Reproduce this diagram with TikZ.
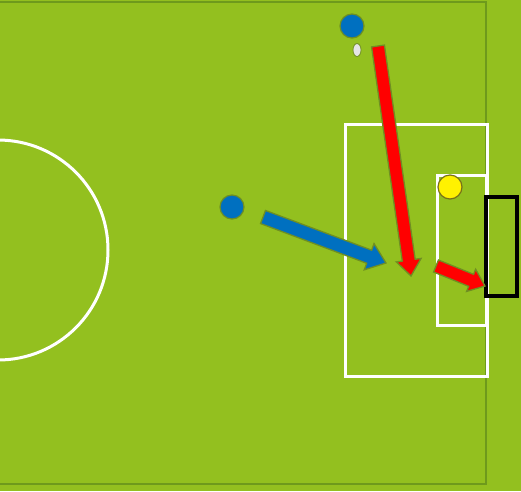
\documentclass[tikz,border=0pt]{standalone}
\usetikzlibrary{calc}

\definecolor{pitch}{HTML}{93C01F}
\definecolor{pitchline}{HTML}{6E9A1C}
\definecolor{kitblue}{HTML}{0070C0}
\definecolor{kitred}{HTML}{FF0000}
\definecolor{edge}{HTML}{6F8F22}

% block arrow: start, end, colour, half shaft, half head, head length
\newcommand{\movearrow}[6]{%
  \coordinate (ah) at ($(#2)!#6!(#1)$);
  \filldraw[#3, draw=edge, line width=1.3pt, line join=miter]
    ($(#1)!#4!90:(#2)$) -- ($(ah)!#4!-90:(#1)$) -- ($(ah)!#5!-90:(#1)$)
    -- (#2) -- ($(ah)!#5!90:(#1)$) -- ($(ah)!#4!90:(#1)$)
    -- ($(#1)!#4!-90:(#2)$) -- cycle;
}

\begin{document}
\begin{tikzpicture}[
  x=1pt, y=-1pt,
  marking/.style={draw=white, line width=3pt},
  player/.style={circle, draw=edge, line width=1.2pt, minimum size=24pt, inner sep=0pt},
  goalbox/.style={draw=black, line width=3.5pt}
]
\fill[pitch] (0,0) rectangle (521,491);
\useasboundingbox (0,0) rectangle (521,491);
\draw[pitchline, line width=2pt] (-2,2) -- (486,2) -- (486,484) -- (-2,484);

% markings
\draw[marking] (-2,250) circle [radius=110pt];
\draw[marking] (345,124) rectangle (487,376);
\draw[marking] (437,175) rectangle (486,325);
\draw[goalbox] (486,197) rectangle (517,296);

% players and ball
\node[player, fill=kitblue] (winger) at (352,26) {};
\node[player, fill=kitblue] (runner) at (232,207) {};
\node[player, fill=yellow, draw=olive!80!black] (keeper) at (450,187) {};
\draw[fill=gray!20, draw=edge, line width=0.8pt] (357,50) ellipse [x radius=4pt, y radius=6.5pt];

% moves
\coordinate (crossA) at (378,46);
\coordinate (crossB) at (411,276);
\coordinate (runA) at (263,217);
\coordinate (runB) at (386,263);
\coordinate (shotA) at (436,266);
\coordinate (shotB) at (485,286);

\movearrow{crossA}{crossB}{kitred}{6.5pt}{12.5pt}{16pt}
\movearrow{runA}{runB}{kitblue}{7pt}{14pt}{18pt}
\movearrow{shotA}{shotB}{kitred}{6.5pt}{12pt}{15pt}
\end{tikzpicture}
\end{document}
